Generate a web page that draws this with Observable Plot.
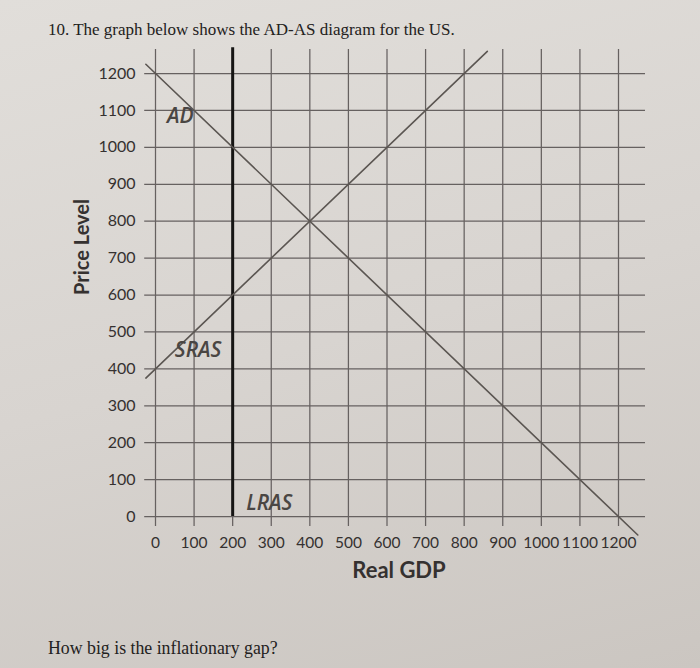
<!DOCTYPE html>
<html><head><meta charset="utf-8">
<script src="https://cdn.jsdelivr.net/npm/d3@7"></script>
<script src="https://cdn.jsdelivr.net/npm/@observablehq/plot@0.6"></script>
<style>
html,body{margin:0;padding:0;}
body{width:700px;height:668px;position:relative;overflow:hidden;
  background:linear-gradient(165deg,#e1deda 0%,#d8d4d0 50%,#cbc6c1 100%);}
#title{position:absolute;left:48px;top:20px;font-family:"Liberation Serif","Times New Roman",serif;font-size:17px;color:#232120;white-space:nowrap;}
#question{position:absolute;left:48px;top:638px;font-family:"Liberation Serif","Times New Roman",serif;font-size:17.8px;color:#232120;white-space:nowrap;}
#chart{position:absolute;left:0;top:0;}
</style>
</head><body>
<div id="title">10. The graph below shows the AD-AS diagram for the US.</div>
<div id="chart"></div>
<div id="question">How big is the inflationary gap?</div>
<script>
// ---- data ----
const xTicks = [0,100,200,300,400,500,600,700,800,900,1000,1100,1200];
const yTicks = [0,100,200,300,400,500,600,700,800,900,1000,1100,1200];
const adGDP = [-25, 1250];
const adPrice = [1225, -50];
const srasGDP = [-25, 860];
const srasPrice = [375, 1260];
const lrasGDP = [200];
const lrasPrice = [0, 1270];
const curveLabels = ["AD", "SRAS", "LRAS"];
const labelGDP = [30, 50, 235];
const labelPrice = [1085, 450, 35];
const xTitle = "Real GDP";
const yTitle = "Price Level";

// ---- build ----
const ad = adGDP.map((g, i) => ({gdp: g, price: adPrice[i]}));
const sras = srasGDP.map((g, i) => ({gdp: g, price: srasPrice[i]}));
const labels = curveLabels.map((t, i) => ({t, gdp: labelGDP[i], price: labelPrice[i]}));

const gridColor = "#666160";
const inkColor = "#353130";
const font = "Lato, 'Noto Sans', sans-serif";
const fmt = d => String(d);

const chart = Plot.plot({
  width: 700,
  height: 600,
  marginLeft: 155,
  marginRight: 82,
  marginTop: 73,
  marginBottom: 84,
  style: {background: "transparent", fontFamily: font, color: inkColor, overflow: "visible"},
  x: {domain: [0, 1200]},
  y: {domain: [0, 1200]},
  marks: [
    Plot.ruleY(yTicks, {y: d => d, x1: -28, x2: 1270, stroke: gridColor, strokeWidth: 1.25}),
    Plot.ruleX(xTicks, {x: d => d, y1: -27, y2: 1265, stroke: gridColor, strokeWidth: 1.25}),
    Plot.ruleX(lrasGDP, {x: d => d, y1: lrasPrice[0], y2: lrasPrice[1], stroke: "#161514", strokeWidth: 3}),
    Plot.line(ad, {x: "gdp", y: "price", stroke: "#5b5652", strokeWidth: 1.6}),
    Plot.line(sras, {x: "gdp", y: "price", stroke: "#5b5652", strokeWidth: 1.6}),
    Plot.text(labels, {x: "gdp", y: "price", text: "t", textAnchor: "start", fontSize: 21, fontStyle: "italic", fontWeight: 600, fill: "#4a4643", fontFamily: "'Open Sans', sans-serif"}),
    Plot.axisX(xTicks, {tickSize: 0, tickPadding: 20, fontSize: 15.5, tickFormat: fmt, label: null, fill: inkColor}),
    Plot.axisY(yTicks, {tickSize: 0, tickPadding: 20, fontSize: 16, tickFormat: fmt, label: null, fill: inkColor}),
    Plot.text([xTitle], {frameAnchor: "bottom", dx: 12, dy: 61, fontSize: 22, fontWeight: "bold", fill: inkColor}),
    Plot.text([yTitle], {frameAnchor: "left", dx: -73, rotate: -90, fontSize: 20, fontWeight: "bold", fill: inkColor})
  ]
});
document.getElementById("chart").appendChild(chart);
</script>
</body></html>
